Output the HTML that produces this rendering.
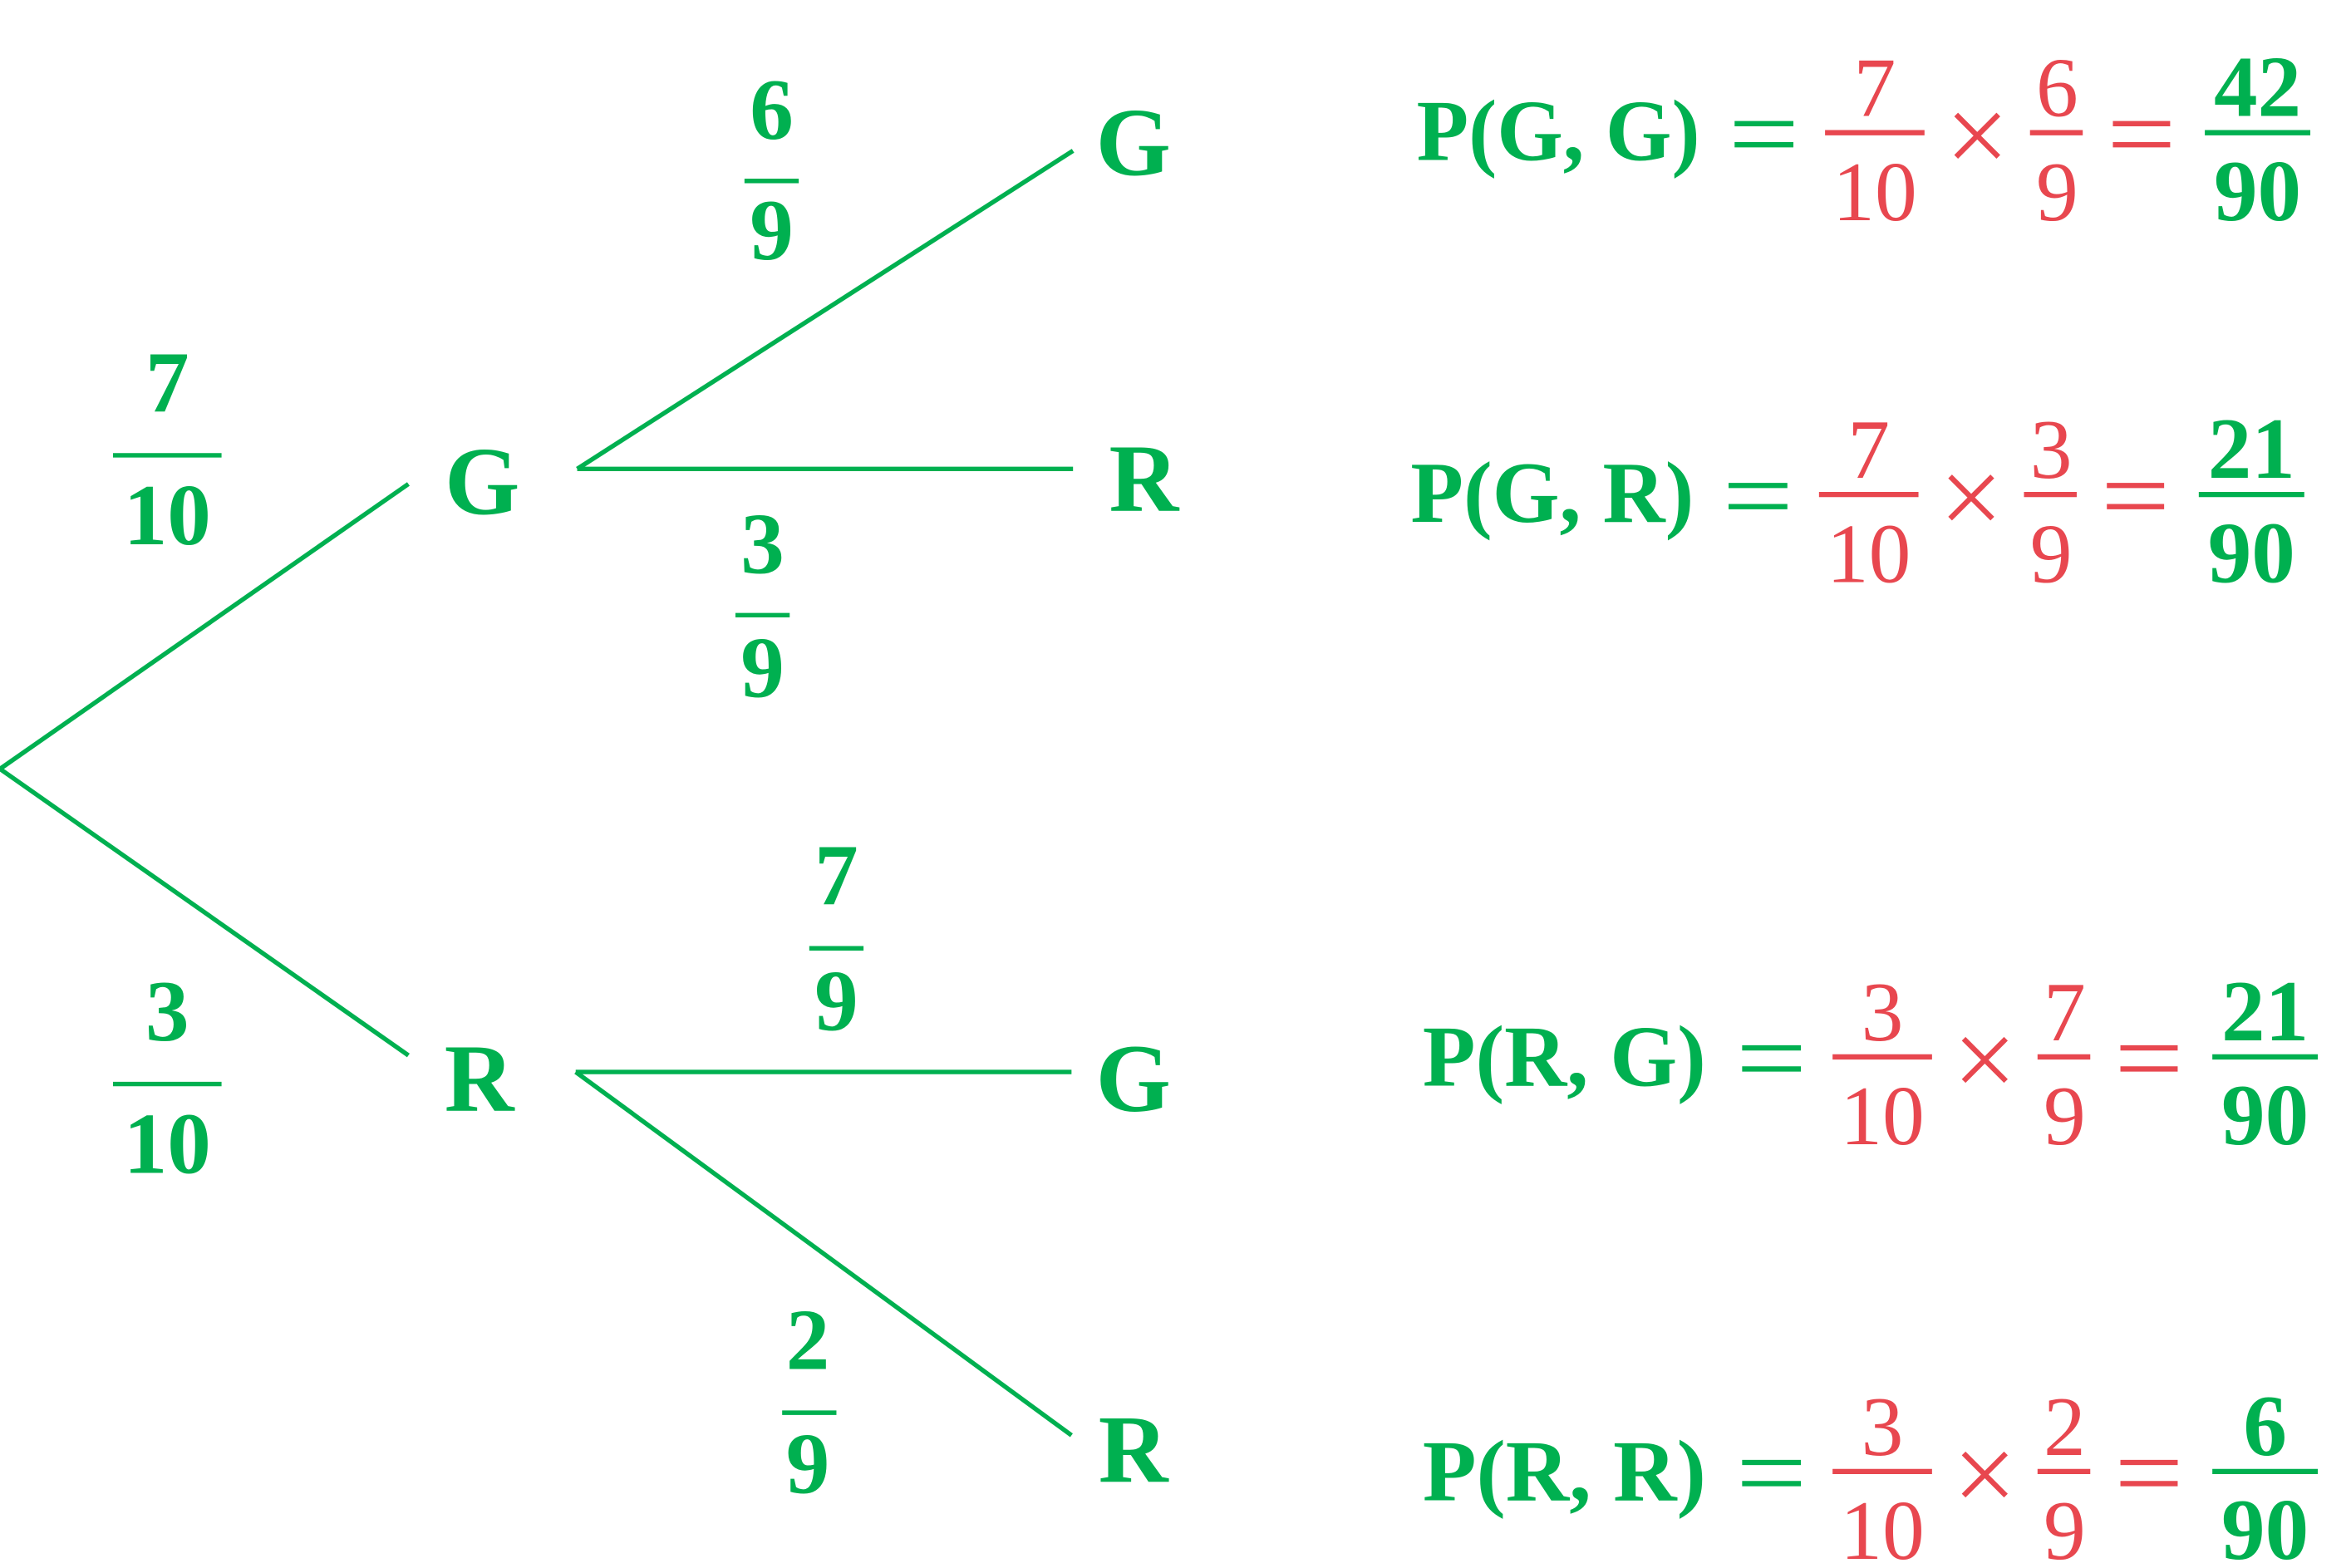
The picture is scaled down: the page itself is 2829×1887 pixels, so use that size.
<!DOCTYPE html>
<html><head><meta charset="utf-8"><style>
html,body{margin:0;padding:0;background:#fff;}
svg{display:block;}
text{font-family:"Liberation Serif",serif;}
.g{fill:#00b050;font-weight:bold;}
.r{fill:#e8474f;}
.n{font-size:64px;}
.f{font-size:58px;text-anchor:middle;}
.fr{font-size:56px;text-anchor:middle;fill:#e8474f;}
.fg{font-size:58px;text-anchor:middle;fill:#00b050;font-weight:bold;}
.p{font-size:58px;}
.op{font-size:56px;fill:#e8474f;text-anchor:middle;}
</style></head><body>
<svg width="2829" height="1887" viewBox="0 0 1560 1040" preserveAspectRatio="none" xmlns="http://www.w3.org/2000/svg">
<g stroke="#00b050" stroke-width="3" fill="none">
<line x1="0" y1="510" x2="271" y2="321"/>
<line x1="0" y1="510" x2="271" y2="700"/>
<line x1="383" y1="311" x2="712" y2="100"/>
<line x1="383" y1="311" x2="712" y2="311"/>
<line x1="382" y1="711" x2="711" y2="711"/>
<line x1="382" y1="711" x2="711" y2="952"/>
</g>
<!-- nodes -->
<g class="g n" text-anchor="middle">
<text x="320" y="341">G</text>
<text x="318" y="737">R</text>
<text x="752" y="116">G</text>
<text x="759" y="339">R</text>
<text x="752" y="737">G</text>
<text x="752" y="983">R</text>
</g>
<!-- branch fractions -->
<g class="g f">
<text x="111" y="273">7</text><text x="111" y="361">10</text>
<text x="111" y="690">3</text><text x="111" y="778">10</text>
<text x="512" y="92">6</text><text x="512" y="172">9</text>
<text x="506" y="380">3</text><text x="506" y="462">9</text>
<text x="555" y="600">7</text><text x="555" y="683">9</text>
<text x="536" y="908">2</text><text x="536" y="990">9</text>
</g>
<g stroke="#00b050" stroke-width="3">
<line x1="75" y1="302" x2="147" y2="302"/>
<line x1="75" y1="719" x2="147" y2="719"/>
<line x1="494" y1="120" x2="530" y2="120"/>
<line x1="488" y1="408" x2="524" y2="408"/>
<line x1="537" y1="629" x2="573" y2="629"/>
<line x1="519" y1="937" x2="555" y2="937"/>
</g>
<!-- equations -->
<g>
<text class="g p" x="940" y="106" textLength="188" lengthAdjust="spacingAndGlyphs">P(G, G)</text>
<text class="g p" x="936" y="346" textLength="188" lengthAdjust="spacingAndGlyphs">P(G, R)</text>
<text class="g p" x="944" y="720" textLength="188" lengthAdjust="spacingAndGlyphs">P(R, G)</text>
<text class="g p" x="944" y="995" textLength="188" lengthAdjust="spacingAndGlyphs">P(R, R)</text>
</g>
<g stroke-width="3.5">
<!-- row1 -->
<line x1="1151" y1="82" x2="1190" y2="82" stroke="#00b050"/><line x1="1151" y1="96" x2="1190" y2="96" stroke="#00b050"/>
<line x1="1211" y1="88" x2="1277" y2="88" stroke="#e8474f"/>
<line x1="1347" y1="88" x2="1382" y2="88" stroke="#e8474f"/>
<line x1="1402" y1="82" x2="1440" y2="82" stroke="#e8474f"/><line x1="1402" y1="96" x2="1440" y2="96" stroke="#e8474f"/>
<line x1="1463" y1="88" x2="1533" y2="88" stroke="#00b050"/>
<!-- row2 -->
<line x1="1147" y1="322" x2="1186" y2="322" stroke="#00b050"/><line x1="1147" y1="336" x2="1186" y2="336" stroke="#00b050"/>
<line x1="1207" y1="328" x2="1273" y2="328" stroke="#e8474f"/>
<line x1="1343" y1="328" x2="1378" y2="328" stroke="#e8474f"/>
<line x1="1398" y1="322" x2="1436" y2="322" stroke="#e8474f"/><line x1="1398" y1="336" x2="1436" y2="336" stroke="#e8474f"/>
<line x1="1459" y1="328" x2="1529" y2="328" stroke="#00b050"/>
<!-- row3 -->
<line x1="1156" y1="695" x2="1195" y2="695" stroke="#00b050"/><line x1="1156" y1="709" x2="1195" y2="709" stroke="#00b050"/>
<line x1="1216" y1="701" x2="1282" y2="701" stroke="#e8474f"/>
<line x1="1352" y1="701" x2="1387" y2="701" stroke="#e8474f"/>
<line x1="1407" y1="695" x2="1445" y2="695" stroke="#e8474f"/><line x1="1407" y1="709" x2="1445" y2="709" stroke="#e8474f"/>
<line x1="1468" y1="701" x2="1538" y2="701" stroke="#00b050"/>
<!-- row4 -->
<line x1="1156" y1="970" x2="1195" y2="970" stroke="#00b050"/><line x1="1156" y1="984" x2="1195" y2="984" stroke="#00b050"/>
<line x1="1216" y1="976" x2="1282" y2="976" stroke="#e8474f"/>
<line x1="1352" y1="976" x2="1387" y2="976" stroke="#e8474f"/>
<line x1="1407" y1="970" x2="1445" y2="970" stroke="#e8474f"/><line x1="1407" y1="984" x2="1445" y2="984" stroke="#e8474f"/>
<line x1="1468" y1="976" x2="1538" y2="976" stroke="#00b050"/>
</g>
<!-- × signs -->
<g stroke="#e8474f" stroke-width="3.5">
<line x1="1298" y1="76" x2="1326" y2="104"/><line x1="1326" y1="76" x2="1298" y2="104"/>
<line x1="1294" y1="316" x2="1322" y2="344"/><line x1="1322" y1="316" x2="1294" y2="344"/>
<line x1="1303" y1="689" x2="1331" y2="717"/><line x1="1331" y1="689" x2="1303" y2="717"/>
<line x1="1303" y1="964" x2="1331" y2="992"/><line x1="1331" y1="964" x2="1303" y2="992"/>
</g>
<g class="fr">
<text x="1244" y="77">7</text><text x="1244" y="146">10</text>
<text x="1365" y="77">6</text><text x="1365" y="146">9</text>
<text x="1240" y="317">7</text><text x="1240" y="386">10</text>
<text x="1361" y="317">3</text><text x="1361" y="386">9</text>
<text x="1249" y="690">3</text><text x="1249" y="759">10</text>
<text x="1370" y="690">7</text><text x="1370" y="759">9</text>
<text x="1249" y="965">3</text><text x="1249" y="1034">10</text>
<text x="1370" y="965">2</text><text x="1370" y="1034">9</text>
</g>
<g class="fg">
<text x="1498" y="77">42</text><text x="1498" y="146">90</text>
<text x="1494" y="317">21</text><text x="1494" y="386">90</text>
<text x="1503" y="690">21</text><text x="1503" y="759">90</text>
<text x="1503" y="965">6</text><text x="1503" y="1034">90</text>
</g>
</svg>
</body></html>
